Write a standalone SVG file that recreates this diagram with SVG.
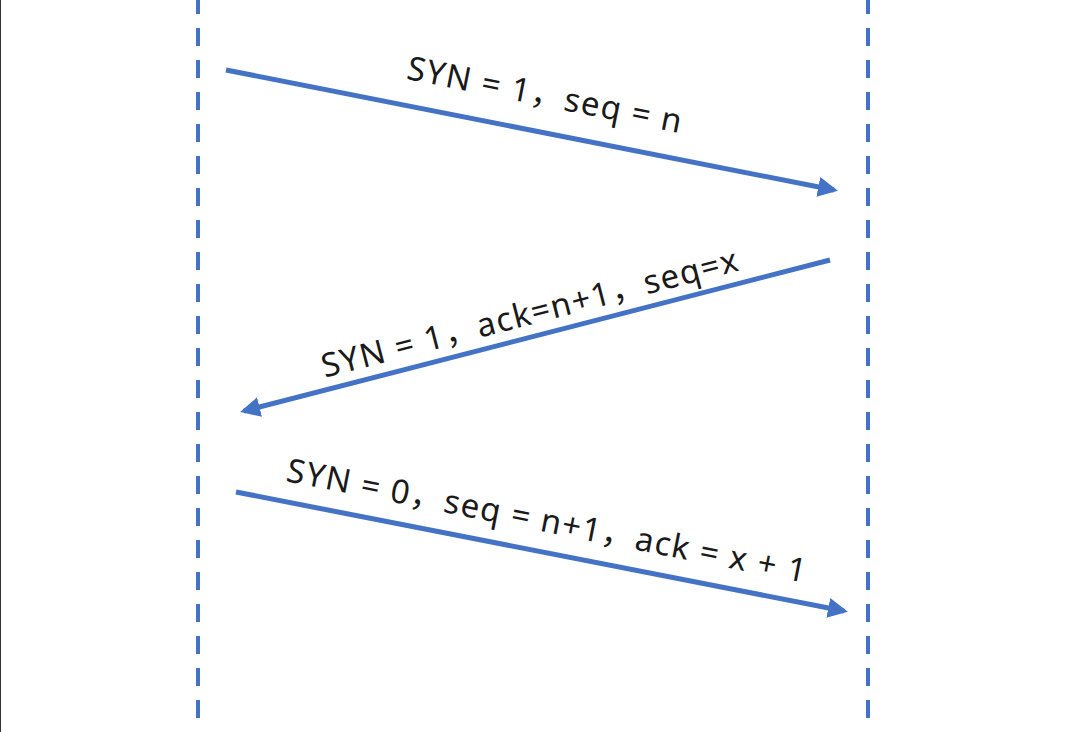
<svg xmlns="http://www.w3.org/2000/svg" width="1080" height="732" viewBox="0 0 1080 732">
<defs>
<marker id="ah" markerWidth="4" markerHeight="4" refX="3.2" refY="2" orient="auto" markerUnits="strokeWidth"><path d="M0,0 L4,2 L0,4 z" fill="#4472C4"/></marker>
<style>
.life{stroke:#4472C4;stroke-width:4;stroke-dasharray:18 14;fill:none}
.msg{stroke:#4472C4;stroke-width:5;fill:none;marker-end:url(#ah)}
text{font-family:"Noto Sans","Noto Sans CJK SC",sans-serif;font-size:33px;fill:#1a1a1a;text-anchor:middle;letter-spacing:1.3px}
</style>
</defs>
<rect width="1080" height="732" fill="#ffffff"/>
<line x1="0.5" y1="0" x2="0.5" y2="732" stroke="#333" stroke-width="1"/>
<g id="lifelines">
<line class="life" x1="198" y1="-4" x2="198" y2="732"/>
<line class="life" x1="868" y1="-4" x2="868" y2="732"/>
</g>
<g id="connectors">
<line class="msg" x1="226" y1="70" x2="834" y2="190"/>
<line class="msg" x1="830" y1="260" x2="244" y2="411"/>
<line class="msg" x1="236" y1="492" x2="844" y2="611"/>
</g>
<g id="label1"><text transform="translate(543,106) rotate(11.2)">SYN = 1，seq = n</text></g>
<g id="label2"><text transform="translate(533,324) rotate(-14.5)">SYN = 1，ack=n+1，seq=x</text></g>
<g id="label3"><text transform="translate(545,532) rotate(11.1)">SYN = 0，seq = n+1，ack = x + 1</text></g>
</svg>
